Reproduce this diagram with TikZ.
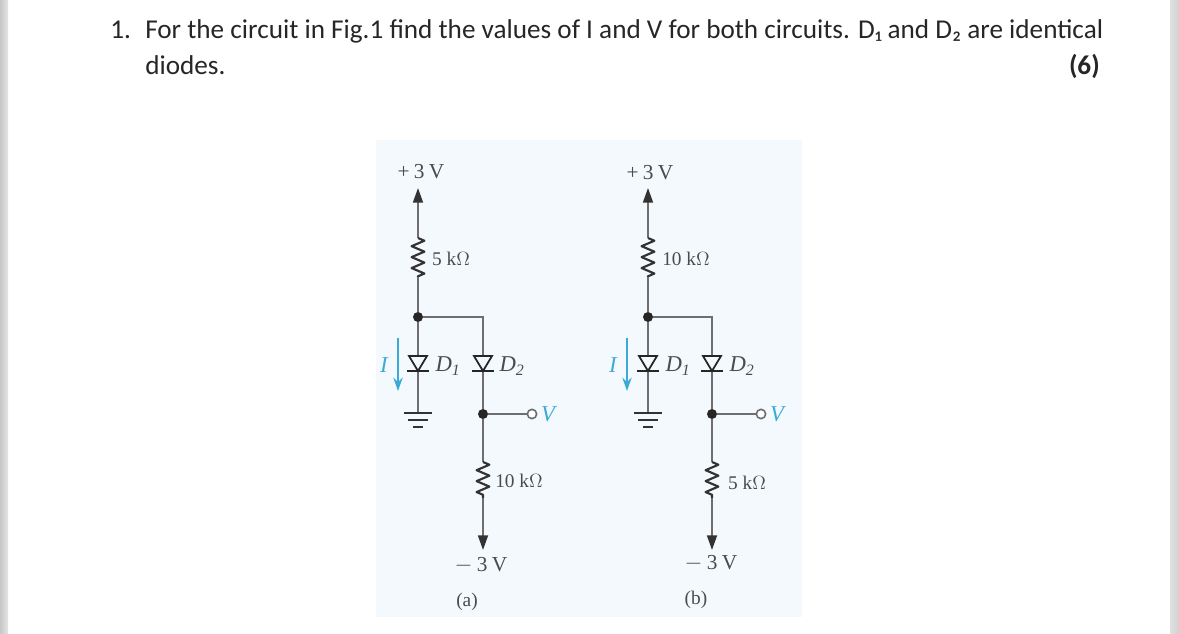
\documentclass[tikz,border=0pt]{standalone}
\usepackage{fontspec}
\setmainfont{Carlito}
\newfontfamily\figfont{Liberation Serif}
\usetikzlibrary{arrows.meta, decorations.pathmorphing}
\definecolor{panelblue}{RGB}{243,249,253}
\definecolor{wiregray}{RGB}{110,110,112}
\definecolor{labelgray}{RGB}{75,75,78}
\definecolor{currentblue}{RGB}{60,170,215}
\tikzset{
  wire/.style={draw=wiregray,line width=1.3pt},
  supply/.style={wire,-{Triangle[length=11pt,width=7.5pt,color=black!80]}},
  resistor/.style={draw=black!80,line width=1.6pt,line join=round,decorate,decoration={zigzag,segment length=8.2pt,amplitude=4.8pt}},
  junction/.style={circle,fill=black!85,inner sep=0pt,minimum size=7.5pt},
  terminal/.style={circle,draw=wiregray,fill=white,line width=1.2pt,inner sep=0pt,minimum size=7pt},
  figlabel/.style={inner sep=0.75pt,text=labelgray,font=\figfont\fontsize{16}{18}\selectfont},
  figvalue/.style={figlabel,font=\figfont\fontsize{14.5}{17}\selectfont},
  figital/.style={figlabel,font=\figfont\itshape\fontsize{17}{19}\selectfont},
  bluelabel/.style={figital,text=currentblue},
  question/.style={inner sep=0pt,anchor=base west,text=black!85,font=\fontsize{20.4}{24}\selectfont},
  diode/.pic={
    \draw[draw=black!85,fill=panelblue,line width=1.3pt,line join=miter] (-9,8) -- (9,8) -- (0,-7) -- cycle;
    \draw[draw=black!85,line width=1.8pt] (-11,-7) -- (11,-7);
  },
  earth/.pic={
    \draw[draw=black!80,line width=1.5pt] (-14,0) -- (14,0);
    \draw[draw=black!80,line width=1.5pt] (-10,-7) -- (10,-7);
    \draw[draw=black!80,line width=1.5pt] (-5,-14) -- (5,-14);
  },
}
\begin{document}
\begin{tikzpicture}[x=0.75pt,y=0.75pt,yscale=-1,xscale=1]
\useasboundingbox (0,0) rectangle (1179,634);

%page edges and panel
\shade[left color=black!22,right color=black!10] (0,0) rectangle (8,634);
\shade[left color=black!12,right color=black!18] (1170,0) rectangle (1179,634);
\fill[panelblue] (376,140) rectangle (802,617);

% Text Node
\node[question] (qnum) at (110,39) {1.};
\node[question] (qline) at (145,39) {For the circuit in Fig.1 find the values of I and V for both circuits. D₁ and D₂ are identical};
\node[question] (qend) at (145,75) {diodes.};
\node[question,anchor=base east,font=\bfseries\fontsize{20.4}{24}\selectfont] (qmarks) at (1100,75) {(6)};

%circuit (a)
\node[figlabel] (atop) at (421,172) {+\hspace{3.2pt}3\hspace{3.2pt}V};
\coordinate (asup) at (418,188);
\coordinate (ara) at (418,238);
\coordinate (arb) at (418,277);
\node[junction] (aj) at (418,317) {};
\coordinate (ad1) at (418,364);
\coordinate (acor) at (483,317);
\coordinate (ad2) at (483,364);
\coordinate (agnd) at (418,413);
\node[junction] (ak) at (483,414) {};
\node[terminal] (aout) at (532,414) {};
\coordinate (arc) at (483,462);
\coordinate (ard) at (483,498);
\coordinate (aneg) at (483,550);
\draw[supply] (ara) -- (asup);
\draw[resistor] (ara) -- (arb);
\draw[wire] (arb) -- (aj);
\draw[wire] (aj) -- (agnd);
\draw[wire] (aj) -- (acor) -- (ak);
\draw[wire] (ak) -- (aout);
\draw[wire] (ak) -- (arc);
\draw[resistor] (arc) -- (ard);
\draw[supply] (ard) -- (aneg);
\pic at (ad1) {diode};
\pic at (ad2) {diode};
\pic at (agnd) {earth};
\coordinate (aia) at (398,338);
\coordinate (aib) at (398,391);
\draw[draw=currentblue,line width=1.3pt,-{Stealth[length=10pt,width=7pt]}] (aia) -- (aib);
\node[figvalue] (ar1) at (451,259) {5 k$\Omega$};
\node[figital] (adl1) at (448,366) {D\textsubscript{1}};
\node[figital] (adl2) at (512,366) {D\textsubscript{2}};
\node[bluelabel] (ai) at (384,365) {I};
\node[bluelabel] (av) at (548,414) {V};
\node[figvalue] (ar2) at (519,481) {10 k$\Omega$};
\node[figlabel] (abot) at (481,565) {$-$\hspace{3.2pt}3\hspace{3.2pt}V};
\node[figvalue] (acap) at (467,602) {(a)};

%circuit (b)
\node[figlabel] (btop) at (650,173) {+\hspace{3.2pt}3\hspace{3.2pt}V};
\coordinate (bsup) at (648,188);
\coordinate (bra) at (648,238);
\coordinate (brb) at (648,277);
\node[junction] (bj) at (648,317) {};
\coordinate (bd1) at (648,364);
\coordinate (bcor) at (712,317);
\coordinate (bd2) at (712,364);
\coordinate (bgnd) at (648,413);
\node[junction] (bk) at (712,414) {};
\node[terminal] (bout) at (761,414) {};
\coordinate (brc) at (712,462);
\coordinate (brd) at (712,498);
\coordinate (bneg) at (712,550);
\draw[supply] (bra) -- (bsup);
\draw[resistor] (bra) -- (brb);
\draw[wire] (brb) -- (bj);
\draw[wire] (bj) -- (bgnd);
\draw[wire] (bj) -- (bcor) -- (bk);
\draw[wire] (bk) -- (bout);
\draw[wire] (bk) -- (brc);
\draw[resistor] (brc) -- (brd);
\draw[supply] (brd) -- (bneg);
\pic at (bd1) {diode};
\pic at (bd2) {diode};
\pic at (bgnd) {earth};
\coordinate (bia) at (627,338);
\coordinate (bib) at (627,391);
\draw[draw=currentblue,line width=1.3pt,-{Stealth[length=10pt,width=7pt]}] (bia) -- (bib);
\node[figvalue] (br1) at (686,259) {10 k$\Omega$};
\node[figital] (bdl1) at (678,366) {D\textsubscript{1}};
\node[figital] (bdl2) at (742,366) {D\textsubscript{2}};
\node[bluelabel] (bi) at (613,365) {I};
\node[bluelabel] (bv) at (777,414) {V};
\node[figvalue] (br2) at (747,483) {5 k$\Omega$};
\node[figlabel] (bbot) at (711,563) {$-$\hspace{3.2pt}3\hspace{3.2pt}V};
\node[figvalue] (bcap) at (696,600) {(b)};

\end{tikzpicture}
\end{document}
